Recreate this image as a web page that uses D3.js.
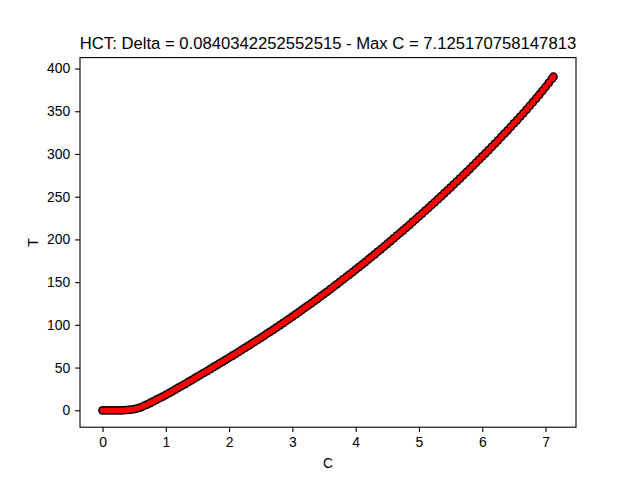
<!DOCTYPE html>
<html>
<head>
<meta charset="utf-8">
<script src="https://cdn.jsdelivr.net/npm/d3@7"></script>
<style>
  body { margin: 0; background: #fff; }
  text { font-family: "Liberation Sans", Arial, sans-serif; fill: #000; }
</style>
</head>
<body>
<div id="chart"></div>
<script>
// values
const titleText = "HCT: Delta = 0.0840342252552515 - Max C = 7.125170758147813";
const xLabel = "C";
const yLabel = "T";
const xTicks = [0, 1, 2, 3, 4, 5, 6, 7];
const yTicks = [0, 50, 100, 150, 200, 250, 300, 350, 400];
const xLimits = [-0.3563, 7.4815];
const yLimits = [-19.8, 412.8];

const cValues = [
  0.00, 0.05, 0.10, 0.15, 0.20, 0.25, 0.30, 0.35, 0.40, 0.45,
  0.50, 0.55, 0.60, 0.65, 0.70, 0.75, 0.80, 0.85, 0.90, 0.95,
  1.00, 1.05, 1.10, 1.15, 1.20, 1.25, 1.30, 1.35, 1.40, 1.45,
  1.50, 1.55, 1.60, 1.65, 1.70, 1.75, 1.80, 1.85, 1.90, 1.95,
  2.00, 2.05, 2.10, 2.15, 2.20, 2.25, 2.30, 2.35, 2.40, 2.45,
  2.50, 2.55, 2.60, 2.65, 2.70, 2.75, 2.80, 2.85, 2.90, 2.95,
  3.00, 3.05, 3.10, 3.15, 3.20, 3.25, 3.30, 3.35, 3.40, 3.45,
  3.50, 3.55, 3.60, 3.65, 3.70, 3.75, 3.80, 3.85, 3.90, 3.95,
  4.00, 4.05, 4.10, 4.15, 4.20, 4.25, 4.30, 4.35, 4.40, 4.45,
  4.50, 4.55, 4.60, 4.65, 4.70, 4.75, 4.80, 4.85, 4.90, 4.95,
  5.00, 5.05, 5.10, 5.15, 5.20, 5.25, 5.30, 5.35, 5.40, 5.45,
  5.50, 5.55, 5.60, 5.65, 5.70, 5.75, 5.80, 5.85, 5.90, 5.95,
  6.00, 6.05, 6.10, 6.15, 6.20, 6.25, 6.30, 6.35, 6.40, 6.45,
  6.50, 6.55, 6.60, 6.65, 6.70, 6.75, 6.80, 6.85, 6.90, 6.95,
  7.00, 7.05, 7.10, 7.125170758147813
];

const tValues = [
  0.0, 0.0, -0.1, -0.1, -0.1, -0.1, 0.0, 0.1, 0.4, 0.8,
  1.4, 2.3, 3.5, 5.0, 6.7, 8.5, 10.4, 12.3, 14.2, 16.1,
  18.0, 20.1, 22.2, 24.3, 26.5, 28.6, 30.7, 32.9, 35.0, 37.2,
  39.4, 41.6, 43.8, 45.9, 48.1, 50.4, 52.6, 54.8, 57.0, 59.3,
  61.5, 63.8, 66.0, 68.3, 70.6, 73.0, 75.3, 77.6, 80.0, 82.4,
  84.8, 87.2, 89.6, 92.0, 94.5, 97.0, 99.5, 102.0, 104.5, 107.1,
  109.6, 112.2, 114.8, 117.4, 120.1, 122.7, 125.4, 128.1, 130.8, 133.5,
  136.3, 139.0, 141.8, 144.6, 147.4, 150.2, 153.1, 156.0, 158.8, 161.7,
  164.7, 167.6, 170.5, 173.5, 176.5, 179.5, 182.5, 185.6, 188.7, 191.7,
  194.9, 198.0, 201.1, 204.3, 207.5, 210.7, 213.9, 217.1, 220.4, 223.6,
  226.9, 230.2, 233.6, 236.9, 240.3, 243.7, 247.1, 250.5, 254.0, 257.4,
  260.9, 264.4, 268.0, 271.5, 275.1, 278.7, 282.3, 286.0, 289.7, 293.3,
  297.1, 300.8, 304.6, 308.4, 312.2, 316.0, 319.9, 323.8, 327.7, 331.7,
  335.7, 339.7, 343.8, 347.9, 352.0, 356.2, 360.6, 364.9, 369.3, 373.8,
  378.4, 383.1, 387.9, 390.4
];

// set the dimensions and margins of the graph (matplotlib default layout)
const W = 640, H = 480;
const margin = { top: 57.6, right: 64, bottom: 52.8, left: 80 };
const width = W - margin.left - margin.right;
const height = H - margin.top - margin.bottom;

const svg = d3.select("#chart")
  .append("svg")
  .attr("width", W)
  .attr("height", H);

const g = svg.append("g")
  .attr("transform", `translate(${margin.left}, ${margin.top})`);

const x = d3.scaleLinear().domain(xLimits).range([0, width]);
const y = d3.scaleLinear().domain(yLimits).range([height, 0]);

const data = cValues.map((c, i) => ({ C: c, T: tValues[i] }));

// the points sit so close together that only the outer edge shows:
// black edge layer first, red faces on top
const points = g.append("g");
points.append("g")
  .selectAll("circle")
  .data(data)
  .join("circle")
  .attr("cx", d => x(d.C))
  .attr("cy", d => y(d.T))
  .attr("r", 4.4)
  .attr("fill", "#000");
points.append("g")
  .selectAll("circle")
  .data(data)
  .join("circle")
  .attr("cx", d => x(d.C))
  .attr("cy", d => y(d.T))
  .attr("r", 2.9)
  .attr("fill", "#ff0000");

// axes
const tickLen = 4.86;
const X_axis = g.append("g")
  .attr("transform", `translate(0, ${height})`)
  .call(d3.axisBottom(x).tickValues(xTicks).tickFormat(d3.format("d"))
    .tickSize(tickLen).tickPadding(4.86).tickSizeOuter(0));
const Y_axis = g.append("g")
  .call(d3.axisLeft(y).tickValues(yTicks).tickFormat(d3.format("d"))
    .tickSize(tickLen).tickPadding(4.86).tickSizeOuter(0));

[X_axis, Y_axis].forEach(a => {
  a.select(".domain").remove();
  a.selectAll(".tick line").attr("stroke", "#000").attr("stroke-width", 1.1);
  a.selectAll(".tick text")
    .style("font-family", '"Liberation Sans", Arial, sans-serif')
    .style("font-size", "13.9px")
    .attr("fill", "#000");
});

// frame
g.append("rect")
  .attr("x", 0).attr("y", 0)
  .attr("width", width).attr("height", height)
  .attr("fill", "none")
  .attr("stroke", "#000")
  .attr("stroke-width", 1.1);

// title and labels
svg.append("text")
  .attr("x", margin.left + width / 2)
  .attr("y", 49)
  .attr("text-anchor", "middle")
  .style("font-size", "16.67px")
  .text(titleText);

svg.append("text")
  .attr("x", margin.left + width / 2)
  .attr("y", 468)
  .attr("text-anchor", "middle")
  .style("font-size", "13.9px")
  .text(xLabel);

svg.append("text")
  .attr("transform", `translate(38, ${margin.top + height / 2}) rotate(-90)`)
  .attr("text-anchor", "middle")
  .style("font-size", "13.9px")
  .text(yLabel);
</script>
</body>
</html>
